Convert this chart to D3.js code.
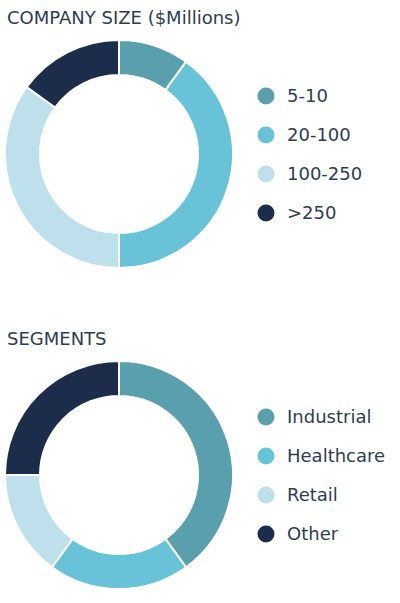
<!DOCTYPE html>
<html>
<head>
<meta charset="utf-8">
<script src="https://cdn.jsdelivr.net/npm/d3@7"></script>
<style>
  body { margin: 0; background: #fff; }
  text { font-family: "DejaVu Sans", sans-serif; fill: #2e3d4f; }
</style>
</head>
<body>
<div id="chart"></div>
<script>
// chart data
var sizeLabels = ["5-10", "20-100", "100-250", ">250"];
var sizeValues = [10, 40, 35, 15];
var segLabels = ["Industrial", "Healthcare", "Retail", "Other"];
var segValues = [40, 20, 15, 25];
var colors = ["#5a9fae", "#68c3d9", "#bde0ec", "#1b2d4b"];

var svg = d3.select("#chart")
    .append("svg")
    .attr("width", 400)
    .attr("height", 603);

var color = d3.scaleOrdinal().domain(d3.range(4)).range(colors);

function donut(title, labels, values, top) {
    var g = svg.append("g");

    g.append("text")
        .attr("x", 7)
        .attr("y", top + 24)
        .attr("font-size", 18)
        .text(title);

    var pie = d3.pie().sort(null).value(function (d) { return d; });
    var arc = d3.arc().innerRadius(79).outerRadius(114);

    g.append("g")
        .attr("transform", "translate(119," + (top + 154) + ")")
        .selectAll("path")
        .data(pie(values))
        .enter().append("path")
        .attr("d", arc)
        .attr("fill", function (d, i) { return color(i); })
        .attr("stroke", "#fff")
        .attr("stroke-width", 2);

    var y = d3.scalePoint().domain(labels).range([top + 96, top + 213]);

    var leg = g.selectAll(".leg")
        .data(labels)
        .enter().append("g")
        .attr("transform", function (d) { return "translate(266," + y(d) + ")"; });

    leg.append("circle")
        .attr("r", 8.5)
        .attr("fill", function (d, i) { return color(i); });

    leg.append("text")
        .attr("x", 21)
        .attr("dy", "0.35em")
        .attr("font-size", 18)
        .text(function (d) { return d; });
}

donut("COMPANY SIZE ($Millions)", sizeLabels, sizeValues, 0);
donut("SEGMENTS", segLabels, segValues, 321);
</script>
</body>
</html>
